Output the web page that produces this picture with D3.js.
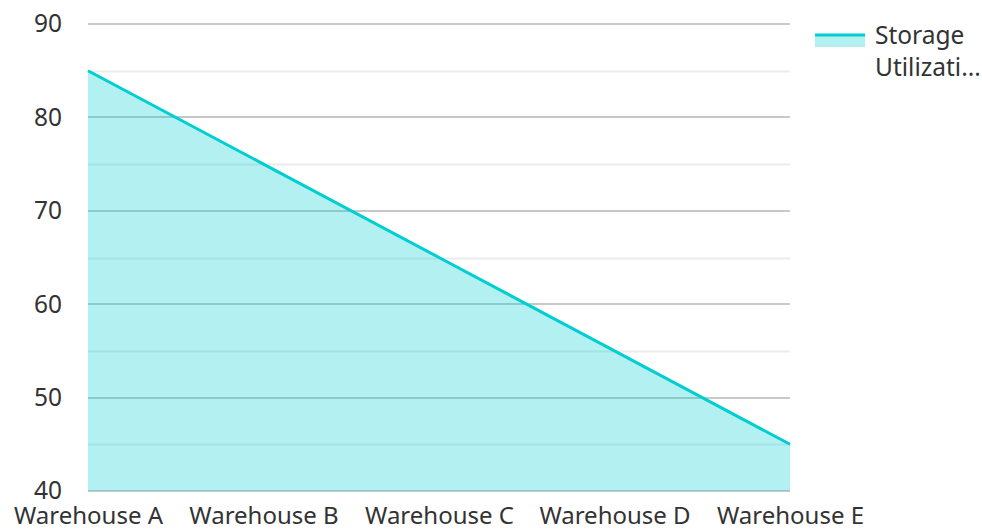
<!DOCTYPE html>
<html>
<head>
<meta charset="utf-8">
<script src="https://cdn.jsdelivr.net/npm/d3@7"></script>
<style>
	body { margin: 0; background: #fff; }
	text { font-family: "Noto Sans", "Open Sans", sans-serif; fill: #333; }
</style>
</head>
<body>
<div id="chart"></div>
<script>
'use strict';

// data
const categories = ["Warehouse A", "Warehouse B", "Warehouse C", "Warehouse D", "Warehouse E"];
const utilization = [85, 75, 65, 55, 45];
const seriesName = "Storage Utilization";
const yTicks = [40, 50, 60, 70, 80, 90];
const yMinorTicks = [45, 55, 65, 75, 85];

const width = 982, height = 532;
const margin = { top: 24, right: 192, bottom: 41, left: 88 };
const color = "#00ced1";
const fontSize = 24.5;

const svg = d3.select("#chart")
	.append("svg")
		.attr("width", width)
		.attr("height", height);

const x = d3.scalePoint()
	.domain(categories)
	.range([margin.left, width - margin.right]);

const y = d3.scaleLinear()
	.domain([40, 90])
	.range([height - margin.bottom, margin.top]);

// gridlines (minor first, then major)
svg.append("g")
	.selectAll("line")
	.data(yMinorTicks)
	.join("line")
		.attr("x1", margin.left)
		.attr("x2", width - margin.right)
		.attr("y1", d => Math.round(y(d)) + 0.5)
		.attr("y2", d => Math.round(y(d)) + 0.5)
		.attr("stroke", "#ebebeb")
		.attr("stroke-width", 2);

svg.append("g")
	.selectAll("line")
	.data(yTicks)
	.join("line")
		.attr("x1", margin.left)
		.attr("x2", width - margin.right)
		.attr("y1", d => Math.round(y(d)))
		.attr("y2", d => Math.round(y(d)))
		.attr("stroke", "#c8c8c8")
		.attr("stroke-width", 2);

// area + line
const area = d3.area()
	.x((d, i) => x(categories[i]))
	.y0(y(40))
	.y1(d => y(d));

const line = d3.line()
	.x((d, i) => x(categories[i]))
	.y(d => y(d));

svg.append("path")
	.datum(utilization)
	.attr("d", area)
	.attr("fill", color)
	.attr("fill-opacity", 0.3);

svg.append("path")
	.datum(utilization)
	.attr("d", line)
	.attr("fill", "none")
	.attr("stroke", color)
	.attr("stroke-width", 3);

// y axis labels
const yAxis = svg.append("g")
	.attr("transform", `translate(${margin.left},0)`)
	.call(d3.axisLeft(y).tickValues(yTicks).tickSize(0).tickPadding(26));
yAxis.select(".domain").remove();
yAxis.selectAll("text")
	.attr("font-size", fontSize)
	.style("font-family", "'Noto Sans', sans-serif")
	.attr("fill", "#333");

// x axis labels
const xAxis = svg.append("g")
	.attr("transform", `translate(0,${height - margin.bottom})`)
	.call(d3.axisBottom(x).tickSize(0).tickPadding(16));
xAxis.select(".domain").remove();
xAxis.selectAll("text")
	.attr("font-size", 24)
	.style("font-family", "'Noto Sans', sans-serif")
	.attr("fill", "#333");

// legend
const legend = svg.append("g")
	.attr("transform", "translate(815,35)");
legend.append("rect")
	.attr("x", 0).attr("y", 0)
	.attr("width", 50).attr("height", 12)
	.attr("fill", color)
	.attr("fill-opacity", 0.3);
legend.append("line")
	.attr("x1", 0).attr("x2", 50)
	.attr("y1", 0).attr("y2", 0)
	.attr("stroke", color)
	.attr("stroke-width", 3);
legend.append("text")
	.attr("x", 60).attr("y", 9)
	.attr("font-size", fontSize)
	.text(seriesName.split(" ")[0]);
legend.append("text")
	.attr("x", 60).attr("y", 41)
	.attr("font-size", fontSize)
	.text(seriesName.split(" ")[1].slice(0, 9) + "...");
</script>
</body>
</html>
